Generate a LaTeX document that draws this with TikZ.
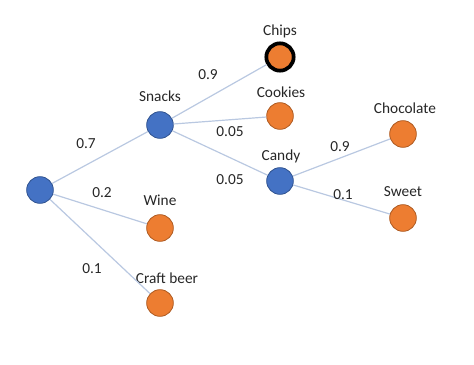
\documentclass[tikz,border=0pt]{standalone}
\usepackage{fontspec}
\setmainfont{Carlito}
\definecolor{nodeblue}{RGB}{68, 114, 196}
\definecolor{nodeblueline}{RGB}{47, 82, 143}
\definecolor{nodeorange}{RGB}{237, 125, 49}
\definecolor{nodeorangeline}{RGB}{174, 90, 33}
\definecolor{edgegray}{RGB}{185, 200, 225}

\begin{document}
\begin{tikzpicture}[x=0.75pt, y=-0.75pt,
    chance/.style={circle, minimum size=20pt, inner sep=0pt, fill=nodeblue, draw=nodeblueline, line width=0.6pt},
    outcome/.style={circle, minimum size=20pt, inner sep=0pt, fill=nodeorange, draw=nodeorangeline, line width=0.6pt},
    chosen/.style={outcome, draw=black, line width=2.8pt, minimum size=20.5pt},
    itemlabel/.style={font=\fontsize{11.5}{13}\selectfont, text=black!85},
    prob/.style={font=\fontsize{11.5}{13}\selectfont, text=black!85},
    branch/.style={draw=edgegray, line width=0.9pt}]
    \useasboundingbox (0,0) rectangle (474,364);

    % decision tree nodes
    \node[chance] (root) at (40,190) {};
    \node[chance] (snacks) at (160,125) {};
    \node[outcome] (wine) at (160,228) {};
    \node[outcome] (beer) at (160,303) {};
    \node[chosen] (chips) at (280,57) {};
    \node[outcome] (cookies) at (280,116) {};
    \node[chance] (candy) at (280,181) {};
    \node[outcome] (choc) at (403,134) {};
    \node[outcome] (sweet) at (403,218) {};

    % names above the nodes
    \node[itemlabel] (snackslbl) at (160,96) {Snacks};
    \node[itemlabel] (winelbl) at (160,200) {Wine};
    \node[itemlabel] (beerlbl) at (167,278) {Craft beer};
    \node[itemlabel] (chipslbl) at (280,31) {Chips};
    \node[itemlabel] (cookieslbl) at (281,92) {Cookies};
    \node[itemlabel] (candylbl) at (281,156) {Candy};
    \node[itemlabel] (choclbl) at (405,108) {Chocolate};
    \node[itemlabel] (sweetlbl) at (403,192) {Sweet};

    % branches
    \foreach \a/\b in {root/snacks, root/wine, root/beer, snacks/chips,
                       snacks/cookies, snacks/candy, candy/choc, candy/sweet} {
      \draw[branch] (\a) -- (\b);
    }

    % probabilities
    \node[prob] (p1) at (86,144) {0.7};
    \node[prob] (p2) at (102,193) {0.2};
    \node[prob] (p3) at (92,269) {0.1};
    \node[prob] (p4) at (208,75) {0.9};
    \node[prob] (p5) at (230,132) {0.05};
    \node[prob] (p6) at (230,180) {0.05};
    \node[prob] (p7) at (340,147) {0.9};
    \node[prob] (p8) at (343,195) {0.1};
\end{tikzpicture}
\end{document}
